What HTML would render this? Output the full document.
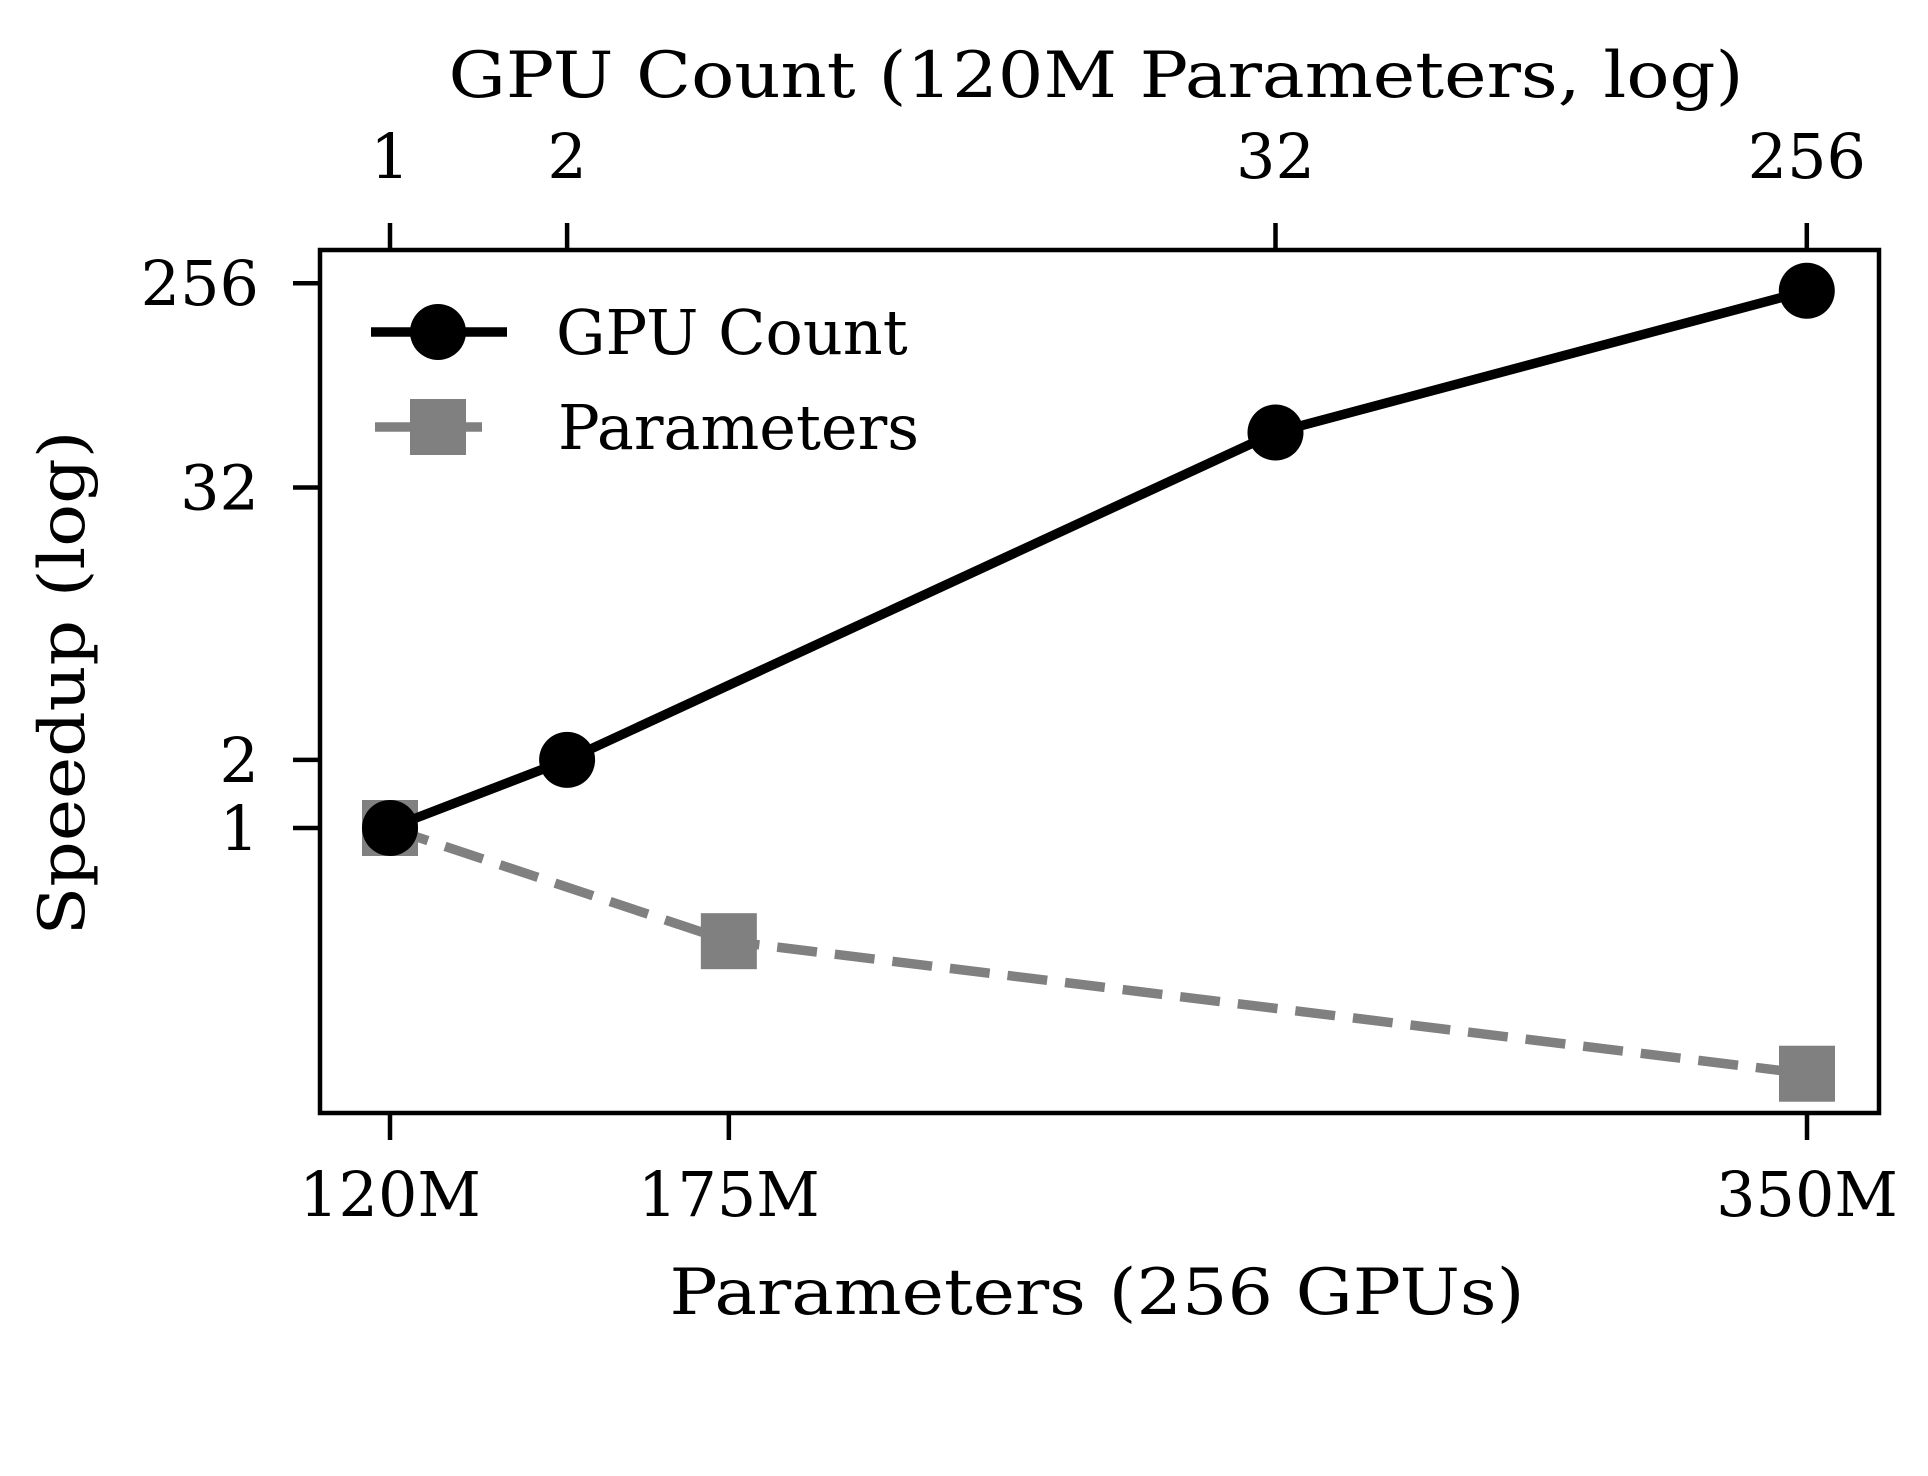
<!DOCTYPE html>
<html><head><meta charset="utf-8"><style>
html,body{margin:0;padding:0;background:#fff;}
svg{display:block;font-family:"DejaVu Serif","Liberation Serif",serif;}
</style></head><body>
<svg id="chart" width="1928" height="1476" viewBox="0 0 1928 1476" xmlns="http://www.w3.org/2000/svg">
<rect width="1928" height="1476" fill="#fff"/>
<g id="plot"></g>
</svg>
<script>
const gpuCounts = [1, 2, 32, 256];
const gpuSpeedup = [1, 2, 56, 237];
const paramCounts = [120, 175, 350];
const paramSpeedup = [1, 0.316, 0.082];
const topTickLabels = ["1", "2", "32", "256"];
const bottomTickValues = [120, 175, 350];
const bottomTickLabels = ["120M", "175M", "350M"];
const yTickValues = [1, 2, 32, 256];
const yTickLabels = ["1", "2", "32", "256"];

const L = 320, R = 1879, T = 250, B = 1113;
const yS = v => 828 - 68.1 * Math.log2(v);
const xTop = v => 390 + 177.1 * Math.log2(v);
const xBot = v => 390 + (v - 120) * (1417 / 230);

const NS = "http://www.w3.org/2000/svg";
const g = document.getElementById("plot");
function mk(tag, attrs, parent) {
  const e = document.createElementNS(NS, tag);
  for (const k in attrs) e.setAttribute(k, attrs[k]);
  (parent || g).appendChild(e);
  return e;
}

let d = paramCounts.map((p, i) => (i ? "L" : "M") + xBot(p) + " " + yS(paramSpeedup[i])).join(" ");
let pl = mk("path", {d: d, fill: "none", stroke: "#808080", "stroke-width": 9.5, "stroke-dasharray": "40 18"});


paramCounts.forEach((p, i) => {
  const s = mk("rect", {x: xBot(p) - 28, y: yS(paramSpeedup[i]) - 28, width: 56, height: 56, fill: "#808080"});
  
  
});

d = gpuCounts.map((c, i) => (i ? "L" : "M") + xTop(c) + " " + yS(gpuSpeedup[i])).join(" ");
let gl = mk("path", {d: d, fill: "none", stroke: "#000", "stroke-width": 9.5});


gpuCounts.forEach((c, i) => {
  const ci = mk("circle", {cx: xTop(c), cy: yS(gpuSpeedup[i]), r: 28, fill: "#000"});
  
  
});

const fr = mk("rect", {x: L, y: T, width: R - L, height: B - T, fill: "none", stroke: "#000", "stroke-width": 4.5});



yTickValues.forEach((v, i) => {
  const y = yS(v);
  const t = mk("line", {x1: L - 27, x2: L, y1: y, y2: y, stroke: "#000", "stroke-width": 4.5});
  
  
  const tx = mk("text", {x: 259, y: y + 22, "text-anchor": "end", "font-size": 62});
  tx.textContent = yTickLabels[i];
  
  
});
gpuCounts.forEach((v, i) => {
  const x = xTop(v);
  const t = mk("line", {x1: x, x2: x, y1: T - 27, y2: T, stroke: "#000", "stroke-width": 4.5});
  
  
  const tx = mk("text", {x: x, y: 178, "text-anchor": "middle", "font-size": 62});
  tx.textContent = topTickLabels[i];
  
  
});
bottomTickValues.forEach((v, i) => {
  const x = xBot(v);
  const t = mk("line", {x1: x, x2: x, y1: B, y2: B + 27, stroke: "#000", "stroke-width": 4.5});
  
  
  const tx = mk("text", {x: x, y: 1216, "text-anchor": "middle", "font-size": 62});
  tx.textContent = bottomTickLabels[i];
  
  
});

let t1 = mk("text", {x: 1096, y: 97, "text-anchor": "middle", "font-size": 64, textLength: 1295, lengthAdjust: "spacingAndGlyphs"});
t1.textContent = "GPU Count (120M Parameters, log)";


let t2 = mk("text", {x: 1097, y: 1314, "text-anchor": "middle", "font-size": 64, textLength: 855, lengthAdjust: "spacingAndGlyphs"});
t2.textContent = "Parameters (256 GPUs)";


let t3 = mk("text", {x: 0, y: 0, "text-anchor": "middle", "font-size": 64, transform: "translate(84 683) rotate(-90)", textLength: 505, lengthAdjust: "spacingAndGlyphs"});
t3.textContent = "Speedup (log)";



const lg = mk("g", {});


let l1 = mk("line", {x1: 371, x2: 507, y1: 332, y2: 332, stroke: "#000", "stroke-width": 9.5}, lg);


let c1 = mk("circle", {cx: 438, cy: 332, r: 28, fill: "#000"}, lg);


let lt1 = mk("text", {x: 556, y: 354, "font-size": 62}, lg);
lt1.textContent = "GPU Count";


let l2 = mk("line", {x1: 375, x2: 482, y1: 427, y2: 427, stroke: "#808080", "stroke-width": 9.5}, lg);


let s2 = mk("rect", {x: 410, y: 399, width: 56, height: 56, fill: "#808080"}, lg);


let lt2 = mk("text", {x: 558, y: 449, "font-size": 62}, lg);
lt2.textContent = "Parameters";


</script>
</body></html>
